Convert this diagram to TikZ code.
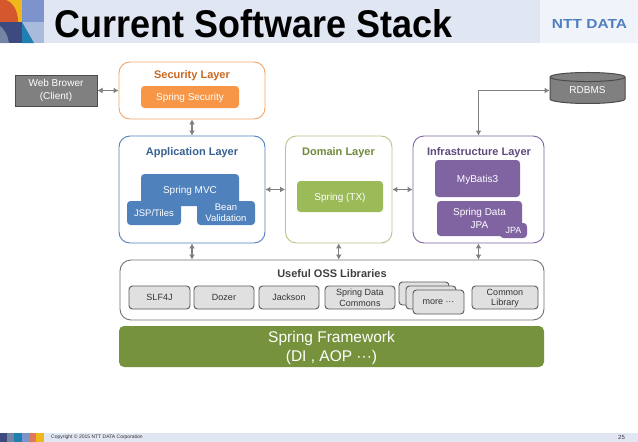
\documentclass[tikz,border=0pt]{standalone}
\usepackage{graphicx}
\usepackage{fontspec}
\setmainfont{Liberation Sans}
\usetikzlibrary{arrows.meta,shapes.geometric}
\definecolor{band}{HTML}{E0E6F2}
\definecolor{bandl}{HTML}{F0F3F9}
\definecolor{orng}{HTML}{F79646}
\definecolor{orngl}{HTML}{F2A566}
\definecolor{orngt}{HTML}{C9681F}
\definecolor{blu}{HTML}{4F81BD}
\definecolor{blut}{HTML}{376092}
\definecolor{grn}{HTML}{9BBB59}
\definecolor{grnl}{HTML}{B3C886}
\definecolor{grnt}{HTML}{6F8A3A}
\definecolor{pur}{HTML}{8064A2}
\definecolor{purt}{HTML}{5F4A7E}
\definecolor{frame}{HTML}{76923C}
\definecolor{logo}{HTML}{4F7FBE}
\definecolor{tnavy}{HTML}{3C4A80}
\definecolor{tgray}{HTML}{7484A3}
\definecolor{tteal}{HTML}{1F7FB0}
\definecolor{tperi}{HTML}{7D93CC}
\definecolor{tpale}{HTML}{A9BBDD}
\definecolor{tred}{HTML}{D4572E}
\definecolor{tyel}{HTML}{F0B71A}
\tikzset{
  layer/.style={draw=#1,line width=0.9pt,fill=white,rounded corners=11pt,inner sep=0pt},
  box/.style={fill=#1,text=white,rounded corners=3.5pt,inner sep=0pt,align=center,text depth=0pt,font=\fontsize{10}{13}\selectfont},
  lib/.style={draw=black!65,line width=0.9pt,fill=black!12,rounded corners=3.5pt,inner sep=0pt,align=center,text depth=0pt,text=black!80,font=\fontsize{9}{10.5}\selectfont},
  head/.style={font=\bfseries\fontsize{11}{13}\selectfont,inner sep=0pt,text depth=0pt},
  link/.style={draw=black!50,line width=1.3pt,{Latex[length=5pt,width=6pt]}-{Latex[length=5pt,width=6pt]}},
}
% node placed by its pixel corners: style, name, text, x1, x2, y1, y2
\newcommand{\pxnode}[7]{\node[#1,minimum width=#5pt-#4pt,minimum height=#7pt-#6pt] (#2) at ({(#4+#5)/2},{(#6+#7)/2}) {#3};}
\begin{document}
\begin{tikzpicture}[x=1pt,y=-1pt]
\useasboundingbox (0,0) rectangle (638,442);
\fill[white] (0,0) rectangle (638,442);
% header
\fill[band] (44,0) rectangle (540,43);
\fill[bandl] (540,0) rectangle (638,43);
\fill[tyel] (0,0) rectangle (22,22);
\fill[tred] (0,0) -- (6,0) .. controls (14,3) and (18,12) .. (18,22) -- (0,22) -- cycle;
\fill[tperi] (22,0) rectangle (44,22);
\fill[tpale] (22,22) rectangle (44,43);
\fill[tnavy] (0,22) rectangle (22,43);
\fill[tgray] (0,26) .. controls (5,30) and (8,36) .. (9,43) -- (0,43) -- cycle;
\fill[tteal] (22,22) -- (34,43) -- (22,43) -- cycle;
\node[inner sep=0pt] (title) at (254,23.5) {\resizebox{398pt}{28pt}{\bfseries Current Software Stack}};
\node[inner sep=0pt,text=logo] (ntt) at (589.5,23.5) {\resizebox{75pt}{9pt}{\bfseries NTT DATA}};
% external
\pxnode{draw=black!70,line width=1pt,fill=black!50,text=white,inner sep=0pt,align=center,font=\fontsize{10}{13}\selectfont}{web}{Web Brower\\(Client)}{15}{97}{75}{106}
\node[cylinder,shape border rotate=90,aspect=0.25,draw=black!70,line width=1pt,fill=black!50,cylinder uses custom fill,cylinder body fill=black!50,cylinder end fill=black!40,text=white,inner sep=0pt,minimum width=75pt,minimum height=31pt,font=\fontsize{10}{13}\selectfont] (rdbms) at (587.5,90.5) {RDBMS};
% layers
\pxnode{layer=orngl}{sec}{}{119}{265}{62}{119}
\pxnode{layer=blu}{app}{}{119}{265}{136}{243}
\pxnode{layer=grnl}{dom}{}{285.5}{392}{136}{243}
\pxnode{layer=pur}{inf}{}{413}{544}{136}{243}
\pxnode{layer=black!55}{oss}{}{120}{544}{260}{320}
\node[head,text=orngt] (sech) at (192,75) {Security Layer};
\node[head,text=blut] (apph) at (192,152) {Application Layer};
\node[head,text=grnt] (domh) at (338.5,152) {Domain Layer};
\node[head,text=purt] (infh) at (479,152) {Infrastructure Layer};
\node[head,text=black!75] (ossh) at (332,274) {Useful OSS Libraries};
% security
\pxnode{box=orng}{secb}{Spring Security}{141}{239}{86}{108}
% application
\pxnode{box=blu}{mvc}{Spring MVC}{141}{239}{174}{206}
\pxnode{box=blu,font=\fontsize{9.5}{11}\selectfont}{jsp}{JSP/Tiles}{127}{181}{201}{225}
\pxnode{box=blu,font=\fontsize{9.5}{11}\selectfont}{bean}{Bean\\Validation}{197}{255}{201}{225}
% domain
\pxnode{box=grn}{tx}{Spring (TX)}{297}{383}{181}{212}
% infrastructure
\pxnode{box=pur}{mybatis}{MyBatis3}{435}{520}{160}{197}
\pxnode{box=pur}{sdjpa}{Spring Data\\JPA}{437}{522}{201}{236}
\pxnode{box=pur,font=\fontsize{9}{11}\selectfont}{jpa}{JPA}{500}{527}{223}{238}
% libraries
\pxnode{lib}{slf}{SLF4J}{129}{190}{286}{309}
\pxnode{lib}{dozer}{Dozer}{194}{254}{286}{309}
\pxnode{lib}{jackson}{Jackson}{259}{319}{286}{309}
\pxnode{lib}{sdc}{Spring Data\\Commons}{325}{395}{286}{309}
\pxnode{lib}{more3}{}{399}{449}{282}{305}
\pxnode{lib}{more2}{}{406}{456}{286}{309}
\pxnode{lib}{more}{more \textperiodcentered\textperiodcentered\textperiodcentered}{413}{464}{290}{314}
\pxnode{lib}{common}{Common\\Library}{472}{538}{286}{309}
% framework
\pxnode{fill=frame,text=white,rounded corners=5pt,inner sep=0pt,align=center,text depth=0pt,font=\fontsize{15.5}{19}\selectfont}{spring}{Spring Framework\\(DI , AOP \textperiodcentered\textperiodcentered\textperiodcentered)}{119}{544}{326}{367}
% connectors
\draw[link] (web.east) -- (sec.west);
\draw[link] (sec.south) -- (app.north);
\draw[link] (app.east) -- (dom.west);
\draw[link] (dom.east) -- (inf.west);
\draw[link] (app.south) -- (app.south |- oss.north);
\draw[link] (dom.south) -- (dom.south |- oss.north);
\draw[link] (inf.south) -- (inf.south |- oss.north);
\draw[link] (inf.north) |- (rdbms.west);
% footer
\fill[band] (44,433) rectangle (638,442);
\fill[tnavy] (0,433) rectangle (7,442);
\fill[tgray] (7,433) rectangle (14,442);
\fill[tteal] (14,433) rectangle (22,442);
\fill[tperi] (22,433) rectangle (29,442);
\fill[tred!80!white] (29,433) rectangle (36,442);
\fill[tyel] (36,433) rectangle (44,442);
\node[anchor=west,inner sep=0pt,font=\fontsize{5}{6}\selectfont,text=black!80] (copy) at (51,437.5) {Copyright © 2015 NTT DATA Corporation};
\node[inner sep=0pt,font=\fontsize{6}{7}\selectfont,text=black!80] (page) at (621.5,437.5) {25};
\end{tikzpicture}
\end{document}
